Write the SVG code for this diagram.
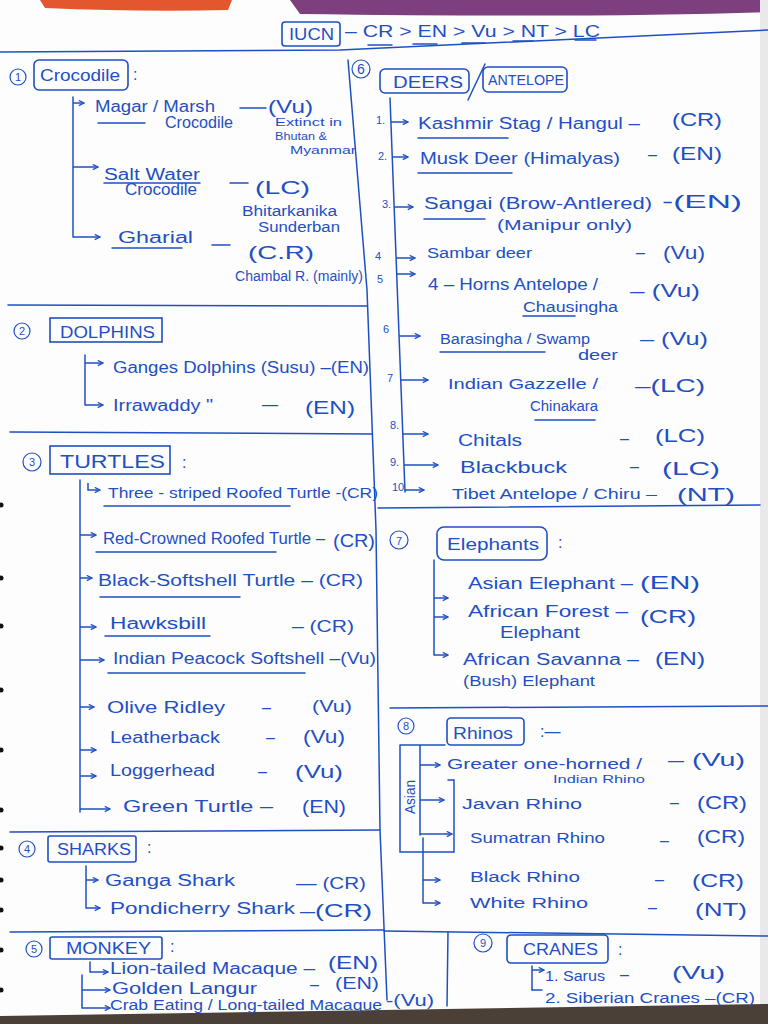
<svg xmlns="http://www.w3.org/2000/svg" width="768" height="1024" viewBox="0 0 768 1024">
<defs>
<style>
.t{font-family:"Liberation Sans","DejaVu Sans",sans-serif;fill:#1f4fc4;font-size:16px}
.s{font-size:11px}
.m{font-size:14px}
.b{font-size:19px}
.ln{stroke:#1f4fc4;stroke-width:1.5;fill:none;stroke-linecap:round}
.thin{stroke:#1f4fc4;stroke-width:1.2;fill:none}
.box{stroke:#1f4fc4;stroke-width:1.6;fill:none}
.arr{stroke:#1f4fc4;stroke-width:1.5;fill:none;marker-end:url(#ah)}
</style>
<marker id="ah" viewBox="0 0 8 8" refX="7" refY="4" markerWidth="7" markerHeight="7" markerUnits="userSpaceOnUse" orient="auto">
<path d="M1,1 L7,4 L1,7" fill="none" stroke="#1f4fc4" stroke-width="1.4"/>
</marker>
</defs>

<!-- background / page -->
<rect x="0" y="0" width="768" height="1024" fill="#fdfdfd"/>
<path d="M40,0 H232 L228,10 Q140,12 45,8 Z" fill="#e4572e"/>
<path d="M290,0 H768 V12 Q600,18 300,14 Z" fill="#7d3f7e"/>
<path d="M0,1016 L768,1004 V1024 H0 Z" fill="#4a4038"/>
<path d="M760,0 H768 V1004 H760 Z" fill="#e9e9ec"/>
<g fill="#111">
<circle cx="1" cy="505" r="2.5"/><circle cx="1" cy="578" r="2.5"/><circle cx="1" cy="626" r="2.5"/>
<circle cx="1" cy="690" r="2.5"/><circle cx="1" cy="750" r="2.5"/><circle cx="1" cy="810" r="2.5"/>
<circle cx="1" cy="848" r="2.5"/><circle cx="1" cy="880" r="2.5"/><circle cx="1" cy="910" r="2.5"/>
<circle cx="1" cy="950" r="2.5"/><circle cx="1" cy="990" r="2.5"/>
</g>

<!-- page rules / dividers -->
<g id="dividers" class="ln">
<path d="M0,52 L340,50 L768,30"/>
<path d="M348,60 L367,290 L376,530 L380,830 L387,1000"/>
<path d="M8,305 L367,306"/>
<path d="M10,432 L372,434"/>
<path d="M10,832 L380,830"/>
<path d="M10,932 L384,930"/>
<path d="M378,508 L760,505"/>
<path d="M390,708 L768,706"/>
<path d="M384,931 L768,936"/>
<path d="M448,932 L447,1006"/>
</g>

<!-- header -->
<g id="header">
<rect class="box" x="282" y="22" width="58" height="24" rx="3"/>
<text class="t" x="289" y="40" textLength="45" lengthAdjust="spacingAndGlyphs">IUCN</text>
<text class="t" x="345" y="37" textLength="255" lengthAdjust="spacingAndGlyphs">– CR &gt; EN &gt; Vu &gt; NT &gt; LC</text>
<path class="ln" d="M368,45 H392 M413,44 H437 M462,43 H485 M513,41 H533 M575,40 H596"/>
</g>

<!-- connectors -->
<g id="connectors">
<path class="ln" d="M73,97 V237"/>
<path class="arr" d="M73,103 H84"/>
<path class="arr" d="M73,167 H98"/>
<path class="arr" d="M73,237 H100"/>

<path class="ln" d="M85,355 V405"/>
<path class="arr" d="M85,363 H103"/>
<path class="arr" d="M85,405 H103"/>

<path class="ln" d="M80,480 V812"/>
<path class="arr" d="M88,483 V490 H100"/>
<path class="arr" d="M80,535 H96"/>
<path class="arr" d="M80,578 H92"/>
<path class="arr" d="M80,627 H96"/>
<path class="arr" d="M80,660 H104"/>
<path class="arr" d="M80,707 H94"/>
<path class="arr" d="M80,750 H96"/>
<path class="arr" d="M80,776 H96"/>
<path class="arr" d="M80,809 H110"/>

<path class="ln" d="M86,866 V908"/>
<path class="arr" d="M86,880 H98"/>
<path class="arr" d="M86,908 H100"/>

<path class="ln" d="M90,962 V972 M82,975 V1008"/>
<path class="arr" d="M90,972 H108"/>
<path class="arr" d="M82,990 H110"/>
<path class="arr" d="M82,1008 H110"/>

<path class="ln" d="M390,98 L405,492"/>
<path class="arr" d="M391,122 H408"/>
<path class="arr" d="M392,157 H408"/>
<path class="arr" d="M394,207 H413"/>
<path class="arr" d="M396,258 H415"/>
<path class="arr" d="M397,274 H415"/>
<path class="arr" d="M399,336 H420"/>
<path class="arr" d="M401,380 H428"/>
<path class="arr" d="M403,434 H428"/>
<path class="arr" d="M404,465 H438"/>
<path class="arr" d="M405,490 H424"/>

<path class="ln" d="M434,560 V655"/>
<path class="arr" d="M434,598 H448"/>
<path class="arr" d="M434,617 H448"/>
<path class="arr" d="M434,655 H448"/>

<path class="ln" d="M400,745 H445 M400,745 V852 H454 V780 H448 M420,745 V835"/>
<path class="arr" d="M420,765 H440"/>
<path class="arr" d="M420,800 H444"/>
<path class="arr" d="M420,834 H452"/>
<path class="ln" d="M423,838 V903"/>
<path class="arr" d="M423,880 H440"/>
<path class="arr" d="M423,903 H440"/>

<path class="ln" d="M532,966 V990"/>
<path class="arr" d="M532,970 H544"/>
<path class="ln" d="M532,990 H542"/>
</g>

<!-- 1 Crocodile -->
<g id="crocodile">
<circle class="thin" cx="18" cy="77" r="8"/>
<text class="t s" x="15" y="81">1</text>
<rect class="box" x="34" y="60" width="94" height="30" rx="5"/>
<text class="t" x="40" y="81" textLength="80" lengthAdjust="spacingAndGlyphs">Crocodile</text>
<text class="t" x="133" y="80">:</text>
<text class="t" x="95" y="112" textLength="120" lengthAdjust="spacingAndGlyphs">Magar / Marsh</text>
<text class="t" x="165" y="128" textLength="68" lengthAdjust="spacingAndGlyphs">Crocodile</text>
<path class="ln" d="M98,123 H145"/>
<path class="ln" d="M240,108 H266"/>
<text class="t b" x="268" y="113" textLength="45" lengthAdjust="spacingAndGlyphs">(Vu)</text>
<text class="t s" x="275" y="126" textLength="67" lengthAdjust="spacingAndGlyphs">Extinct in</text>
<text class="t s" x="275" y="140" textLength="52" lengthAdjust="spacingAndGlyphs">Bhutan &amp;</text>
<text class="t s" x="290" y="154" textLength="66" lengthAdjust="spacingAndGlyphs">Myanmar</text>
<text class="t" x="104" y="180" textLength="96" lengthAdjust="spacingAndGlyphs">Salt Water</text>
<text class="t" x="125" y="195" textLength="72" lengthAdjust="spacingAndGlyphs">Crocodile</text>
<path class="ln" d="M104,183 H200"/>
<path class="ln" d="M230,183 H248"/>
<text class="t b" x="255" y="194" textLength="55" lengthAdjust="spacingAndGlyphs">(LC)</text>
<text class="t m" x="242" y="216" textLength="95" lengthAdjust="spacingAndGlyphs">Bhitarkanika</text>
<text class="t m" x="258" y="232" textLength="82" lengthAdjust="spacingAndGlyphs">Sunderban</text>
<text class="t" x="118" y="243" textLength="75" lengthAdjust="spacingAndGlyphs">Gharial</text>
<path class="ln" d="M112,248 H182"/>
<path class="ln" d="M212,245 H230"/>
<text class="t b" x="248" y="259" textLength="66" lengthAdjust="spacingAndGlyphs">(C.R)</text>
<text class="t m" x="235" y="281" textLength="128" lengthAdjust="spacingAndGlyphs">Chambal R. (mainly)</text>
</g>

<!-- 2 Dolphins -->
<g id="dolphins">
<circle class="thin" cx="22" cy="331" r="8"/>
<text class="t s" x="19" y="335">2</text>
<rect class="box" x="50" y="318" width="112" height="24"/>
<text class="t" x="60" y="338" textLength="95" lengthAdjust="spacingAndGlyphs">DOLPHINS</text>
<text class="t" x="113" y="373" textLength="256" lengthAdjust="spacingAndGlyphs">Ganges Dolphins (Susu) –(EN)</text>
<text class="t" x="113" y="411" textLength="100" lengthAdjust="spacingAndGlyphs">Irrawaddy "</text>
<text class="t" x="262" y="410">—</text>
<text class="t b" x="305" y="414" textLength="50" lengthAdjust="spacingAndGlyphs">(EN)</text>
</g>

<!-- 3 Turtles -->
<g id="turtles">
<circle class="thin" cx="32" cy="462" r="9"/>
<text class="t s" x="29" y="466">3</text>
<rect class="box" x="50" y="446" width="120" height="28"/>
<text class="t b" x="60" y="468" textLength="105" lengthAdjust="spacingAndGlyphs">TURTLES</text>
<text class="t" x="182" y="468">:</text>
<text class="t m" x="108" y="498" textLength="270" lengthAdjust="spacingAndGlyphs">Three - striped Roofed Turtle -(CR)</text>
<path class="ln" d="M104,506 H290"/>
<text class="t" x="103" y="544" textLength="222" lengthAdjust="spacingAndGlyphs">Red-Crowned Roofed Turtle –</text>
<text class="t b" x="333" y="547" textLength="42" lengthAdjust="spacingAndGlyphs">(CR)</text>
<path class="ln" d="M96,552 H276"/>
<text class="t" x="98" y="586" textLength="265" lengthAdjust="spacingAndGlyphs">Black-Softshell Turtle – (CR)</text>
<path class="ln" d="M100,597 H240"/>
<text class="t" x="110" y="629" textLength="96" lengthAdjust="spacingAndGlyphs">Hawksbill</text>
<path class="ln" d="M105,636 H210"/>
<text class="t" x="292" y="632" textLength="62" lengthAdjust="spacingAndGlyphs">– (CR)</text>
<text class="t" x="113" y="664" textLength="263" lengthAdjust="spacingAndGlyphs">Indian Peacock Softshell –(Vu)</text>
<path class="ln" d="M108,673 H305"/>
<text class="t" x="107" y="713" textLength="118" lengthAdjust="spacingAndGlyphs">Olive Ridley</text>
<text class="t" x="262" y="713">–</text>
<text class="t" x="312" y="712" textLength="40" lengthAdjust="spacingAndGlyphs">(Vu)</text>
<text class="t" x="110" y="743" textLength="110" lengthAdjust="spacingAndGlyphs">Leatherback</text>
<text class="t" x="266" y="743">–</text>
<text class="t b" x="303" y="743" textLength="42" lengthAdjust="spacingAndGlyphs">(Vu)</text>
<text class="t" x="110" y="776" textLength="105" lengthAdjust="spacingAndGlyphs">Loggerhead</text>
<text class="t" x="258" y="777">–</text>
<text class="t b" x="295" y="778" textLength="48" lengthAdjust="spacingAndGlyphs">(Vu)</text>
<text class="t" x="123" y="812" textLength="150" lengthAdjust="spacingAndGlyphs">Green Turtle –</text>
<text class="t b" x="302" y="813" textLength="44" lengthAdjust="spacingAndGlyphs">(EN)</text>
</g>

<!-- 4 Sharks -->
<g id="sharks">
<circle class="thin" cx="27" cy="849" r="8"/>
<text class="t s" x="24" y="853">4</text>
<rect class="box" x="48" y="836" width="88" height="26" rx="2"/>
<text class="t" x="57" y="855" textLength="74" lengthAdjust="spacingAndGlyphs">SHARKS</text>
<text class="t" x="147" y="853">:</text>
<text class="t" x="105" y="886" textLength="130" lengthAdjust="spacingAndGlyphs">Ganga Shark</text>
<text class="t" x="296" y="889" textLength="70" lengthAdjust="spacingAndGlyphs">— (CR)</text>
<text class="t" x="110" y="914" textLength="185" lengthAdjust="spacingAndGlyphs">Pondicherry Shark</text>
<text class="t b" x="300" y="917" textLength="72" lengthAdjust="spacingAndGlyphs">–(CR)</text>
</g>

<!-- 5 Monkey -->
<g id="monkey">
<circle class="thin" cx="34" cy="949" r="8"/>
<text class="t s" x="31" y="953">5</text>
<rect class="box" x="50" y="937" width="112" height="22" rx="2"/>
<text class="t" x="66" y="954" textLength="85" lengthAdjust="spacingAndGlyphs">MONKEY</text>
<text class="t" x="170" y="952">:</text>
<text class="t" x="110" y="974" textLength="205" lengthAdjust="spacingAndGlyphs">Lion-tailed Macaque –</text>
<text class="t b" x="328" y="969" textLength="50" lengthAdjust="spacingAndGlyphs">(EN)</text>
<text class="t" x="112" y="994" textLength="145" lengthAdjust="spacingAndGlyphs">Golden Langur</text>
<text class="t" x="310" y="990">–</text>
<text class="t" x="335" y="989" textLength="44" lengthAdjust="spacingAndGlyphs">(EN)</text>
<text class="t m" x="110" y="1010" textLength="272" lengthAdjust="spacingAndGlyphs">Crab Eating / Long-tailed Macaque</text>
<text class="t" x="386" y="1006" textLength="48" lengthAdjust="spacingAndGlyphs">-(Vu)</text>
</g>

<!-- 6 Deers / Antelope -->
<g id="deers">
<circle class="thin" cx="361" cy="69" r="9"/>
<text class="t m" x="357" y="74">6</text>
<rect class="box" x="380" y="69" width="89" height="24" rx="5"/>
<text class="t" x="393" y="88" textLength="70" lengthAdjust="spacingAndGlyphs">DEERS</text>
<path class="ln" d="M468,100 L485,64"/>
<rect class="box" x="483" y="67" width="84" height="25" rx="5"/>
<text class="t m" x="488" y="85" textLength="76" lengthAdjust="spacingAndGlyphs">ANTELOPE</text>
<text class="t s" x="376" y="124">1.</text>
<text class="t" x="418" y="129" textLength="222" lengthAdjust="spacingAndGlyphs">Kashmir Stag / Hangul –</text>
<path class="ln" d="M418,138 H508"/>
<text class="t b" x="672" y="126" textLength="50" lengthAdjust="spacingAndGlyphs">(CR)</text>
<text class="t s" x="378" y="160">2.</text>
<text class="t" x="420" y="164" textLength="200" lengthAdjust="spacingAndGlyphs">Musk Deer (Himalyas)</text>
<path class="ln" d="M418,173 H512"/>
<text class="t" x="648" y="160">–</text>
<text class="t b" x="672" y="160" textLength="50" lengthAdjust="spacingAndGlyphs">(EN)</text>
<text class="t s" x="382" y="208">3.</text>
<text class="t" x="424" y="209" textLength="228" lengthAdjust="spacingAndGlyphs">Sangai (Brow-Antlered)</text>
<path class="ln" d="M424,219 H485"/>
<text class="t b" x="662" y="208" textLength="80" lengthAdjust="spacingAndGlyphs">-(EN)</text>
<text class="t m" x="497" y="230" textLength="135" lengthAdjust="spacingAndGlyphs">(Manipur only)</text>
<text class="t s" x="375" y="260">4</text>
<text class="t m" x="427" y="258" textLength="105" lengthAdjust="spacingAndGlyphs">Sambar deer</text>
<text class="t" x="636" y="258">–</text>
<text class="t b" x="663" y="259" textLength="42" lengthAdjust="spacingAndGlyphs">(Vu)</text>
<text class="t s" x="377" y="283">5</text>
<text class="t" x="428" y="290" textLength="170" lengthAdjust="spacingAndGlyphs">4 – Horns Antelope /</text>
<text class="t m" x="523" y="312" textLength="95" lengthAdjust="spacingAndGlyphs">Chausingha</text>
<path class="ln" d="M523,316 H575"/>
<text class="t b" x="630" y="297" textLength="70" lengthAdjust="spacingAndGlyphs">– (Vu)</text>
<text class="t s" x="383" y="333">6</text>
<text class="t m" x="440" y="344" textLength="150" lengthAdjust="spacingAndGlyphs">Barasingha / Swamp</text>
<text class="t m" x="578" y="360" textLength="40" lengthAdjust="spacingAndGlyphs">deer</text>
<path class="ln" d="M440,352 H545"/>
<text class="t b" x="640" y="345" textLength="68" lengthAdjust="spacingAndGlyphs">– (Vu)</text>
<text class="t s" x="387" y="382">7</text>
<text class="t m" x="448" y="389" textLength="150" lengthAdjust="spacingAndGlyphs">Indian Gazzelle /</text>
<text class="t m" x="530" y="411" textLength="68" lengthAdjust="spacingAndGlyphs">Chinakara</text>
<path class="ln" d="M535,420 H595"/>
<text class="t b" x="635" y="392" textLength="70" lengthAdjust="spacingAndGlyphs">–(LC)</text>
<text class="t s" x="390" y="429">8.</text>
<text class="t" x="458" y="446" textLength="64" lengthAdjust="spacingAndGlyphs">Chitals</text>
<text class="t" x="620" y="444">–</text>
<text class="t b" x="655" y="442" textLength="50" lengthAdjust="spacingAndGlyphs">(LC)</text>
<text class="t s" x="390" y="466">9.</text>
<text class="t" x="460" y="473" textLength="107" lengthAdjust="spacingAndGlyphs">Blackbuck</text>
<text class="t" x="630" y="472">–</text>
<text class="t b" x="662" y="475" textLength="58" lengthAdjust="spacingAndGlyphs">(LC)</text>
<text class="t s" x="392" y="491">10.</text>
<text class="t m" x="452" y="499" textLength="205" lengthAdjust="spacingAndGlyphs">Tibet Antelope / Chiru –</text>
<text class="t b" x="677" y="501" textLength="58" lengthAdjust="spacingAndGlyphs">(NT)</text>
</g>

<!-- 7 Elephants -->
<g id="elephants">
<circle class="thin" cx="399" cy="540" r="9"/>
<text class="t s" x="396" y="545">7</text>
<rect class="box" x="437" y="527" width="110" height="33" rx="7"/>
<text class="t" x="447" y="550" textLength="92" lengthAdjust="spacingAndGlyphs">Elephants</text>
<text class="t" x="558" y="548">:</text>
<text class="t" x="468" y="589" textLength="165" lengthAdjust="spacingAndGlyphs">Asian Elephant –</text>
<text class="t b" x="640" y="589" textLength="60" lengthAdjust="spacingAndGlyphs">(EN)</text>
<text class="t" x="468" y="617" textLength="160" lengthAdjust="spacingAndGlyphs">African Forest –</text>
<text class="t b" x="640" y="623" textLength="56" lengthAdjust="spacingAndGlyphs">(CR)</text>
<text class="t" x="500" y="638" textLength="80" lengthAdjust="spacingAndGlyphs">Elephant</text>
<text class="t" x="463" y="665" textLength="176" lengthAdjust="spacingAndGlyphs">African Savanna –</text>
<text class="t b" x="655" y="665" textLength="50" lengthAdjust="spacingAndGlyphs">(EN)</text>
<text class="t m" x="463" y="686" textLength="132" lengthAdjust="spacingAndGlyphs">(Bush) Elephant</text>
</g>

<!-- 8 Rhinos -->
<g id="rhinos">
<circle class="thin" cx="406" cy="726" r="8"/>
<text class="t s" x="403" y="730">8</text>
<rect class="box" x="447" y="718" width="77" height="27" rx="4"/>
<text class="t" x="453" y="739" textLength="60" lengthAdjust="spacingAndGlyphs">Rhinos</text>
<text class="t" x="540" y="737">:—</text>
<text class="t m" transform="translate(415,814) rotate(-90)" textLength="34" lengthAdjust="spacingAndGlyphs">Asian</text>
<text class="t m" x="447" y="769" textLength="195" lengthAdjust="spacingAndGlyphs">Greater one-horned /</text>
<text class="t s" x="553" y="783" textLength="92" lengthAdjust="spacingAndGlyphs">Indian Rhino</text>
<text class="t b" x="668" y="766" textLength="77" lengthAdjust="spacingAndGlyphs">– (Vu)</text>
<text class="t m" x="462" y="809" textLength="120" lengthAdjust="spacingAndGlyphs">Javan Rhino</text>
<text class="t" x="670" y="808">–</text>
<text class="t b" x="697" y="809" textLength="50" lengthAdjust="spacingAndGlyphs">(CR)</text>
<text class="t m" x="470" y="843" textLength="135" lengthAdjust="spacingAndGlyphs">Sumatran Rhino</text>
<text class="t" x="660" y="846">–</text>
<text class="t b" x="697" y="843" textLength="48" lengthAdjust="spacingAndGlyphs">(CR)</text>
<text class="t m" x="470" y="882" textLength="110" lengthAdjust="spacingAndGlyphs">Black Rhino</text>
<text class="t" x="655" y="885">–</text>
<text class="t b" x="692" y="887" textLength="52" lengthAdjust="spacingAndGlyphs">(CR)</text>
<text class="t m" x="470" y="908" textLength="118" lengthAdjust="spacingAndGlyphs">White Rhino</text>
<text class="t" x="648" y="913">–</text>
<text class="t b" x="695" y="916" textLength="52" lengthAdjust="spacingAndGlyphs">(NT)</text>
</g>

<!-- 9 Cranes -->
<g id="cranes">
<circle class="thin" cx="483" cy="943" r="9"/>
<text class="t s" x="480" y="947">9</text>
<rect class="box" x="507" y="935" width="101" height="28" rx="4"/>
<text class="t" x="523" y="955" textLength="75" lengthAdjust="spacingAndGlyphs">CRANES</text>
<text class="t" x="618" y="955">:</text>
<text class="t m" x="545" y="981" textLength="60" lengthAdjust="spacingAndGlyphs">1. Sarus</text>
<text class="t" x="620" y="980">–</text>
<text class="t b" x="672" y="979" textLength="53" lengthAdjust="spacingAndGlyphs">(Vu)</text>
<text class="t m" x="545" y="1003" textLength="210" lengthAdjust="spacingAndGlyphs">2. Siberian Cranes –(CR)</text>
</g>
</svg>
